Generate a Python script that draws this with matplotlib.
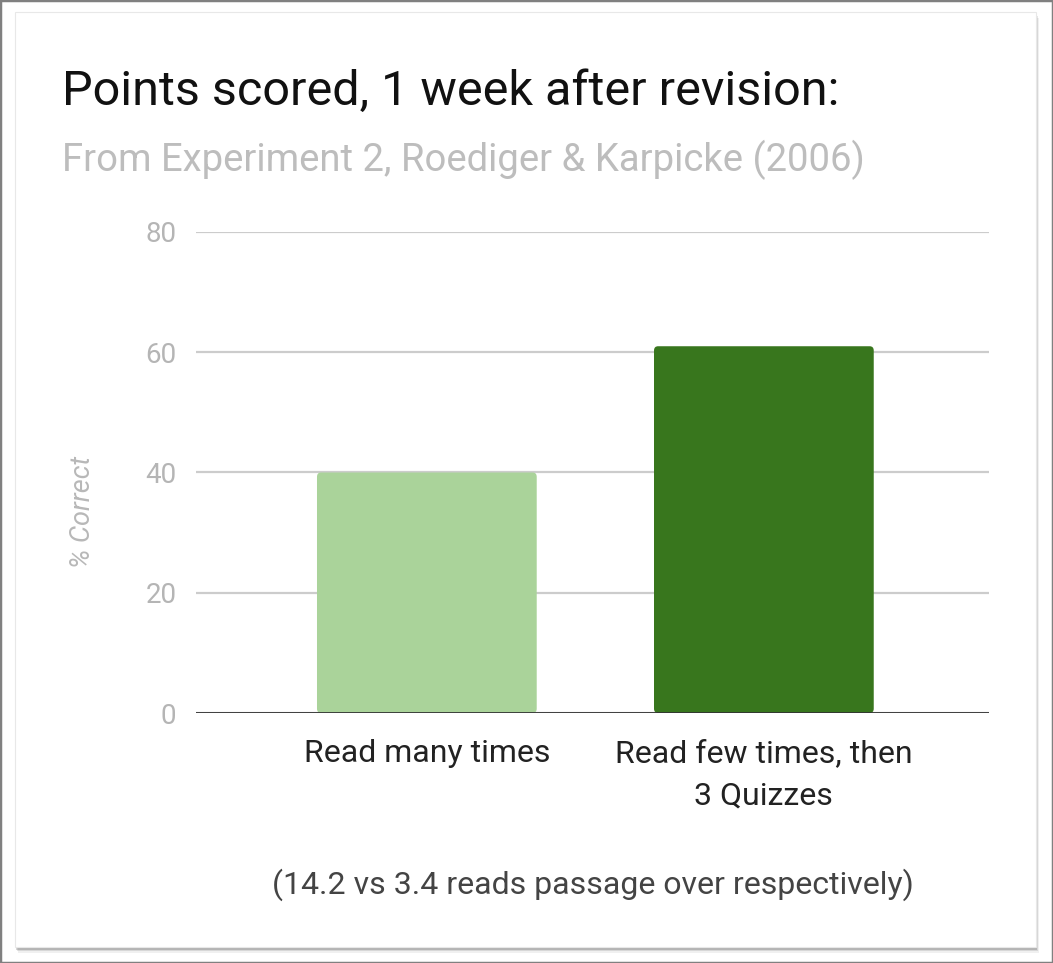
import matplotlib
matplotlib.use("Agg")
from matplotlib import pyplot as plt
from matplotlib.patches import Rectangle, FancyBboxPatch

categories = ["Read many times", "Read few times, then\n3 Quizzes"]
values = [40, 61]
bar_colors = ["#aad39a", "#38761d"]
y_ticks = [0, 20, 40, 60, 80]

title = "Points scored, 1 week after revision:"
subtitle = "From Experiment 2, Roediger & Karpicke (2006)"
y_label = "% Correct"
footnote = "(14.2 vs 3.4 reads passage over respectively)"

W, H = 1053, 963
plt.rcParams['font.family'] = ['Roboto', 'DejaVu Sans']
fig = plt.figure(figsize=(W / 100, H / 100), dpi=100)
fig.patch.set_facecolor("white")

# outer frame
fig.patches.append(Rectangle((0, 0), 1, 1, transform=fig.transFigure,
                             fill=False, edgecolor="#808080", linewidth=2.5))
# card shadow + card
for off, a in [(6, 0.06), (4, 0.10), (2.5, 0.16), (1.2, 0.22)]:
    fig.patches.append(Rectangle(((15 + off * 0.5) / W, (H - 947 - off) / H),
                                 (1036 - 15) / W, (947 - 12) / H,
                                 transform=fig.transFigure, facecolor="black",
                                 alpha=a, edgecolor="none", zorder=0))
fig.patches.append(Rectangle((15 / W, (H - 947) / H), (1036 - 15) / W, (947 - 12) / H,
                             transform=fig.transFigure, facecolor="white",
                             edgecolor="#e8e8e8", linewidth=0.8, zorder=1))

ax = fig.add_axes([196 / W, (H - 713) / H, (989 - 196) / W, (713 - 232) / H])
ax.set_facecolor("none")
ax.set_zorder(2)

x = list(range(len(categories)))
for xi, v, c in zip(x, values, bar_colors):
    ax.add_patch(FancyBboxPatch((xi - 0.326, 0), 0.652, v,
                                boxstyle="round,pad=0,rounding_size=0.012",
                                mutation_aspect=60,
                                facecolor=c, edgecolor="none", zorder=3))
ax.set_xlim(-0.685, 1.668)
ax.set_ylim(0, 80)
ax.set_yticks(y_ticks)
ax.set_yticklabels([str(t) for t in y_ticks])
ax.yaxis.grid(True, color="#cccccc", linewidth=1.6)
ax.set_axisbelow(True)
ax.axhline(0, color="#333333", linewidth=2, zorder=4)
ax.set_xticks(x)
ax.set_xticklabels(categories, fontsize=23, color="#222222", linespacing=1.55)
for s in ax.spines.values():
    s.set_visible(False)
ax.tick_params(axis="y", length=0, pad=14, labelsize=20, labelcolor="#b5b5b5")
ax.tick_params(axis="x", length=0, pad=19)
ax.set_ylabel(y_label, fontsize=19.5, color="#b8b8b8", style="italic", labelpad=0)
ax.yaxis.set_label_coords(-0.126, 0.418)

fig.text(62 / W, 1 - 105 / H, title, fontsize=35, color="#111111", va="baseline")
fig.text(62 / W, 1 - 171 / H, subtitle, fontsize=27.5, color="#bdbdbd", va="baseline")
fig.text(593 / W, 1 - 885 / H, footnote, fontsize=23, color="#444444",
         ha="center", va="center")

fig.savefig("out.png", dpi=100, facecolor="white")
